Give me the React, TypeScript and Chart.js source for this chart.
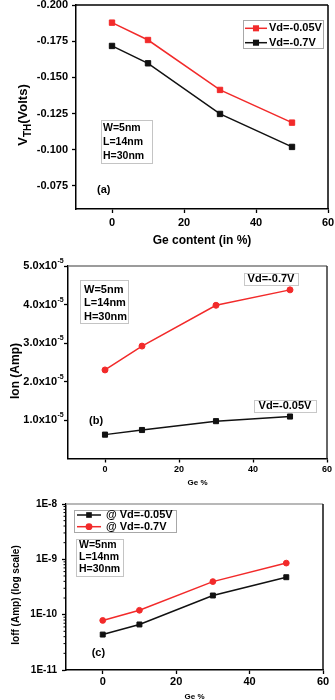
import React, { useEffect, useRef } from 'react';
import { Chart, registerables } from 'chart.js';

Chart.register(...registerables);

const FONT = "'Liberation Sans', Arial, Helvetica, sans-serif";
Chart.defaults.font.family = FONT;
Chart.defaults.color = '#000';

const RED = '#f22a2a';
const BLACK = '#111111';

// ---------- data ----------
const geContent = [0, 10, 30, 50];
const xTickValues = [0, 20, 40, 60];

const vthLabels = ['Vd=-0.05V', 'Vd=-0.7V'];
const vthVd005 = [-0.1878, -0.1758, -0.1413, -0.1187];
const vthVd07 = [-0.1717, -0.1597, -0.1247, -0.1019];
const vthTicks = [-0.2, -0.175, -0.15, -0.125, -0.1, -0.075];

const ionLabels = ['Vd=-0.7V', 'Vd=-0.05V'];
const ionVd07 = [2.3e-5, 2.92e-5, 3.98e-5, 4.38e-5];
const ionVd005 = [0.62e-5, 0.74e-5, 0.97e-5, 1.09e-5];
const ionTicks = [1e-5, 2e-5, 3e-5, 4e-5, 5e-5];

const ioffLabels = ['@ Vd=-0.05V', '@ Vd=-0.7V'];
const ioffVd005 = [4.37e-11, 6.65e-11, 2.22e-10, 4.75e-10];
const ioffVd07 = [7.87e-11, 1.2e-10, 3.96e-10, 8.55e-10];
const ioffTicks = [1e-11, 1e-10, 1e-9, 1e-8];

const deviceParams = ['W=5nm', 'L=14nm', 'H=30nm'];

// ---------- drawing helpers ----------
const bold = (size: number) => `bold ${size}px ${FONT}`;

function text(ctx: CanvasRenderingContext2D, s: string, x: number, y: number, size: number, align: CanvasTextAlign = 'left') {
  ctx.save();
  ctx.font = bold(size);
  ctx.fillStyle = '#000';
  ctx.textAlign = align;
  ctx.textBaseline = 'middle';
  ctx.fillText(s, x, y);
  ctx.restore();
}

function rectBox(ctx: CanvasRenderingContext2D, x1: number, y1: number, x2: number, y2: number, color: string) {
  ctx.save();
  ctx.fillStyle = '#fff';
  ctx.fillRect(x1, y1, x2 - x1, y2 - y1);
  ctx.strokeStyle = color;
  ctx.lineWidth = 1;
  ctx.strokeRect(Math.round(x1) + 0.5, Math.round(y1) + 0.5, Math.round(x2 - x1), Math.round(y2 - y1));
  ctx.restore();
}

function seg(ctx: CanvasRenderingContext2D, x1: number, y1: number, x2: number, y2: number, color: string, w: number) {
  ctx.save();
  ctx.strokeStyle = color;
  ctx.lineWidth = w;
  ctx.beginPath();
  ctx.moveTo(x1, y1);
  ctx.lineTo(x2, y2);
  ctx.stroke();
  ctx.restore();
}

function marker(ctx: CanvasRenderingContext2D, style: string, x: number, y: number, r: number, color: string) {
  ctx.save();
  ctx.fillStyle = color;
  if (style === 'circle') {
    ctx.beginPath();
    ctx.arc(x, y, r, 0, Math.PI * 2);
    ctx.fill();
  } else {
    const s = r * Math.SQRT1_2;
    ctx.fillRect(x - s, y - s, 2 * s, 2 * s);
  }
  ctx.restore();
}

function vtext(ctx: CanvasRenderingContext2D, parts: { t: string; size: number; dy: number }[], cx: number, cy: number) {
  ctx.save();
  ctx.translate(cx, cy);
  ctx.rotate(-Math.PI / 2);
  let total = 0;
  parts.forEach((p) => {
    ctx.font = bold(p.size);
    total += ctx.measureText(p.t).width;
  });
  let x = -total / 2;
  ctx.fillStyle = '#000';
  ctx.textAlign = 'left';
  ctx.textBaseline = 'alphabetic';
  parts.forEach((p) => {
    ctx.font = bold(p.size);
    ctx.fillText(p.t, x, p.dy);
    x += ctx.measureText(p.t).width;
  });
  ctx.restore();
}

function legendRows(ctx: CanvasRenderingContext2D, chart: any, x1: number, x2: number, ys: number[], tx: number, size: number) {
  chart.data.datasets.forEach((ds: any, i: number) => {
    const y = ys[i];
    seg(ctx, x1, y, x2, y, ds.borderColor, 1.5);
    marker(ctx, ds.pointStyle, (x1 + x2) / 2, y, ds.pointRadius + 0.5, ds.borderColor);
    text(ctx, ds.label, tx, y, size);
  });
}

function paramBox(ctx: CanvasRenderingContext2D, x1: number, y1: number, x2: number, y2: number, tx: number, ys: number[], size: number) {
  rectBox(ctx, x1, y1, x2, y2, '#c4c4c4');
  deviceParams.forEach((p, i) => text(ctx, p, tx, ys[i], size));
}

function fix(size: number, horizontal: boolean) {
  return (s: any) => {
    if (horizontal) s.height = size;
    else s.width = size;
    s.paddingLeft = 0;
    s.paddingRight = 0;
    s.paddingTop = 0;
    s.paddingBottom = 0;
  };
}

const setTicks = (vals: number[]) => (s: any) => {
  s.ticks = vals.map((value) => ({ value }));
};

function axisStyle(tickSize: number, padding: number) {
  return {
    grid: { drawOnChartArea: false, drawTicks: true, tickLength: 4, color: '#000', tickWidth: 1.3 },
    border: { color: '#000', width: 1.5 },
    ticks: { color: '#000', font: { family: FONT, size: tickSize, weight: 'bold' as const }, padding, maxRotation: 0, autoSkip: false },
  };
}

function ds(label: string, ys: number[], color: string, style: string, r: number) {
  return {
    label,
    data: geContent.map((x, i) => ({ x, y: ys[i] })),
    borderColor: color,
    backgroundColor: color,
    pointBackgroundColor: color,
    pointBorderColor: color,
    pointBorderWidth: 1,
    pointStyle: style,
    pointRadius: r,
    borderWidth: 1.5,
    tension: 0,
  };
}

const common = {
  responsive: false,
  animation: false as const,
  events: [] as any[],
};

// ---------- chart configs ----------
function makeA(): any {
  const deco = {
    id: 'decoA',
    afterDraw(chart: any) {
      const ctx = chart.ctx as CanvasRenderingContext2D;
      const ca = chart.chartArea;
      seg(ctx, ca.left, ca.top, ca.right, ca.top, '#000', 1.5);
      seg(ctx, ca.right, ca.top, ca.right, ca.bottom, '#000', 1.5);
      rectBox(ctx, 243, 20, 323, 48, '#a8a8a8');
      legendRows(ctx, chart, 245, 267, [28.3, 42.7], 269, 11);
      paramBox(ctx, 101, 120, 152, 163, 103, [128, 142, 156], 10.5);
      text(ctx, '(a)', 97, 190, 11);
      text(ctx, 'Ge content (in %)', (ca.left + ca.right) / 2, 241, 12, 'center');
      vtext(ctx, [
        { t: 'V', size: 13, dy: 4.5 },
        { t: 'TH', size: 10, dy: 8 },
        { t: '(Volts)', size: 13, dy: 4.5 },
      ], 22.5, 115);
    },
  };
  const ax = axisStyle(11, 3.5);
  const ay = axisStyle(11, 4);
  return {
    type: 'line',
    data: {
      datasets: [
        ds(vthLabels[0], vthVd005, RED, 'rect', 3.8),
        ds(vthLabels[1], vthVd07, BLACK, 'rect', 3.8),
      ],
    },
    options: {
      ...common,
      layout: { padding: { top: 5, right: 7, left: 0, bottom: 0 } },
      plugins: { legend: { display: false }, tooltip: { enabled: false } },
      scales: {
        x: { type: 'linear', min: -10, max: 60, afterBuildTicks: setTicks(xTickValues), afterFit: fix(41, true), ...ax },
        y: {
          type: 'linear', reverse: true, min: -0.2, max: -0.059,
          afterBuildTicks: setTicks(vthTicks), afterFit: fix(76, false),
          ...ay,
          ticks: { ...ay.ticks, callback: (v: any) => Number(v).toFixed(3) },
        },
      },
    },
    plugins: [deco],
  };
}

function makeB(): any {
  const deco = {
    id: 'decoB',
    afterDraw(chart: any) {
      const ctx = chart.ctx as CanvasRenderingContext2D;
      const ca = chart.chartArea;
      seg(ctx, ca.left, ca.top, ca.right, ca.top, '#7a7a7a', 1.5);
      seg(ctx, ca.right, ca.top, ca.right, ca.bottom, '#333', 1.5);
      const ys = chart.scales.y;
      ionTicks.forEach((v) => text(ctx, '-5', 57.5, ys.getPixelForValue(v) - 4.5, 7));
      paramBox(ctx, 80, 30, 128, 73, 84, [40, 53.3, 67.3], 11);
      text(ctx, '(b)', 89, 170.7, 11);
      rectBox(ctx, 244, 22.5, 298, 34, '#c8c8c8');
      text(ctx, ionLabels[0], 271, 28.5, 11, 'center');
      rectBox(ctx, 254, 150, 316, 162, '#c8c8c8');
      text(ctx, ionLabels[1], 285, 156, 11, 'center');
      text(ctx, 'Ge %', (ca.left + ca.right) / 2, 232.7, 8, 'center');
      vtext(ctx, [{ t: 'Ion (Amp)', size: 12, dy: 4.3 }], 14.5, 121);
    },
  };
  const ax = axisStyle(9, 2);
  const ay = axisStyle(11, 7);
  return {
    type: 'line',
    data: {
      datasets: [
        ds(ionLabels[0], ionVd07, RED, 'circle', 3),
        ds(ionLabels[1], ionVd005, BLACK, 'rect', 3.6),
      ],
    },
    options: {
      ...common,
      layout: { padding: { top: 16, right: 8, left: 0, bottom: 0 } },
      plugins: { legend: { display: false }, tooltip: { enabled: false } },
      scales: {
        x: { type: 'linear', min: -10, max: 60, afterBuildTicks: setTicks(xTickValues), afterFit: fix(31.5, true), ...ax },
        y: {
          type: 'linear', min: 0, max: 5e-5,
          afterBuildTicks: setTicks(ionTicks), afterFit: fix(68, false),
          ...ay,
          ticks: { ...ay.ticks, callback: (v: any) => (Number(v) * 1e5).toFixed(1) + 'x10' },
        },
      },
    },
    plugins: [deco],
  };
}

function makeC(): any {
  const deco = {
    id: 'decoC',
    afterDraw(chart: any) {
      const ctx = chart.ctx as CanvasRenderingContext2D;
      const ca = chart.chartArea;
      seg(ctx, ca.left, ca.top, ca.right, ca.top, '#a0a0a0', 1.5);
      seg(ctx, ca.right, ca.top, ca.right, ca.bottom, '#111', 1.5);
      const ys = chart.scales.y;
      for (let d = 0; d < ioffTicks.length - 1; d++) {
        for (let k = 2; k <= 9; k++) {
          const y = ys.getPixelForValue(ioffTicks[d] * k);
          seg(ctx, ca.left - 2.5, y, ca.left, y, '#000', 1);
        }
      }
      rectBox(ctx, 74, 20, 176, 42.3, '#a8a8a8');
      legendRows(ctx, chart, 77, 101, [25, 36.7], 106, 11);
      paramBox(ctx, 76, 49.3, 122.7, 86, 79, [55, 67.3, 79], 10.5);
      text(ctx, '(c)', 91.7, 163, 11);
      text(ctx, 'Ge %', (ca.left + ca.right) / 2, 207, 8, 'center');
      vtext(ctx, [{ t: 'Ioff (Amp) (log scale)', size: 10, dy: 3.6 }], 15.7, 105);
    },
  };
  const ax = axisStyle(11, 1.5);
  const ay = axisStyle(10, 5);
  return {
    type: 'line',
    data: {
      datasets: [
        ds(ioffLabels[0], ioffVd005, BLACK, 'rect', 3.5),
        ds(ioffLabels[1], ioffVd07, RED, 'circle', 2.9),
      ],
    },
    options: {
      ...common,
      layout: { padding: { top: 14, right: 12, left: 0, bottom: 0 } },
      plugins: { legend: { display: false }, tooltip: { enabled: false } },
      scales: {
        x: { type: 'linear', min: -10, max: 60, afterBuildTicks: setTicks(xTickValues), afterFit: fix(30, true), ...ax },
        y: {
          type: 'logarithmic', min: 1e-11, max: 1e-8,
          afterBuildTicks: setTicks(ioffTicks), afterFit: fix(66, false),
          ...ay,
          ticks: { ...ay.ticks, callback: (v: any) => '1E' + Math.round(Math.log10(Number(v))) },
        },
      },
    },
    plugins: [deco],
  };
}

function Panel({ top, height, make }: { top: number; height: number; make: () => any }) {
  const ref = useRef<HTMLCanvasElement>(null);
  useEffect(() => {
    const chart = new Chart(ref.current as HTMLCanvasElement, make());
    return () => chart.destroy();
  }, []);
  return (
    <canvas
      ref={ref}
      width={335}
      height={height}
      style={{ position: 'absolute', left: 0, top, width: 335, height, display: 'block' }}
    />
  );
}

export default function App() {
  return (
    <div style={{ position: 'absolute', left: 0, top: 0, width: 335, height: 700, background: '#fff', overflow: 'hidden' }}>
      <Panel top={0} height={250} make={makeA} />
      <Panel top={250} height={240} make={makeB} />
      <Panel top={490} height={210} make={makeC} />
    </div>
  );
}
